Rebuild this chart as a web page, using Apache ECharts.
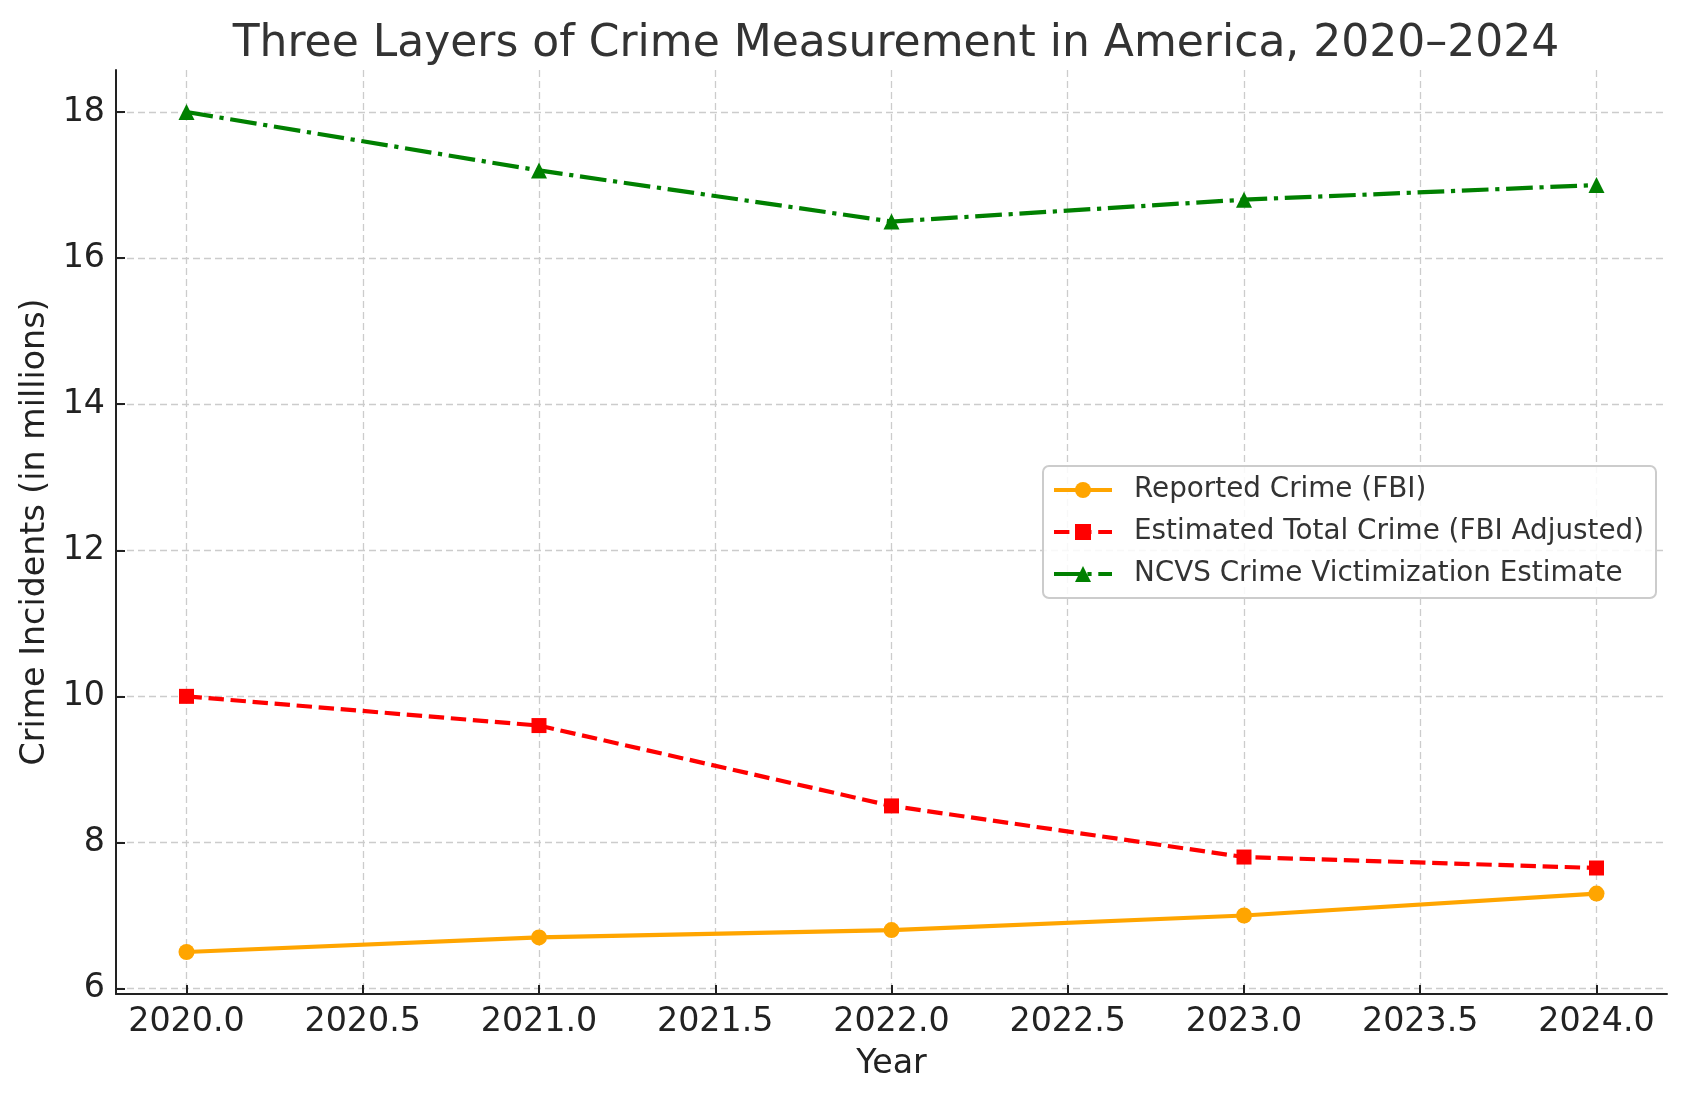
<!DOCTYPE html>
<html>
<head>
<meta charset="utf-8">
<script src="https://cdn.jsdelivr.net/npm/echarts@6/dist/echarts.min.js"></script>
<style>
  html, body { margin: 0; padding: 0; background: #fff; }
  #chart { width: 1686px; height: 1101px; }
</style>
</head>
<body>
<div id="chart"></div>
<script>
// data
var years = [2020, 2021, 2022, 2023, 2024];
var reported = [6.5, 6.7, 6.8, 7.0, 7.3];
var estimated = [10.0, 9.6, 8.5, 7.8, 7.65];
var ncvs = [18.0, 17.2, 16.5, 16.8, 17.0];
var xTicks = [2020, 2020.5, 2021, 2021.5, 2022, 2022.5, 2023, 2023.5, 2024];
var yTicks = [6, 8, 10, 12, 14, 16, 18];

function pairs(vals) {
  return years.map(function (y, i) { return [y, vals[i]]; });
}

var chart = echarts.init(document.getElementById("chart"));
var font = "DejaVu Sans";
var gridLine = { show: true, lineStyle: { color: "#cccccc", width: 1.3, type: [7, 4] } };

var option = {
  backgroundColor: "#ffffff",
  animation: false,
  title: {
    text: "Three Layers of Crime Measurement in America, 2020\u20132024",
    left: 891,
    textAlign: "center",
    top: 18,
    textStyle: { fontFamily: font, fontSize: 44, fontWeight: "normal", color: "#333333" }
  },
  grid: { left: 116, right: 19, top: 70, bottom: 107, containLabel: false },
  legend: {
    orient: "vertical",
    left: 1043,
    top: 466,
    padding: [10, 12, 10, 9],
    itemGap: 14,
    itemWidth: 58,
    itemHeight: 20,
    lineStyle: { width: 4 },
    backgroundColor: "rgba(255,255,255,0.85)",
    borderColor: "#cccccc",
    borderWidth: 2,
    borderRadius: 6,
    textStyle: { fontFamily: font, fontSize: 27.8, color: "#333333", padding: [0, 0, 0, 17] },
    data: ["Reported Crime (FBI)", "Estimated Total Crime (FBI Adjusted)", "NCVS Crime Victimization Estimate"]
  },
  xAxis: {
    type: "value",
    min: 2019.8,
    max: 2024.2,
    name: "Year",
    nameLocation: "middle",
    nameGap: 54,
    nameTextStyle: { fontFamily: font, fontSize: 33.3, color: "#222222" },
    axisLine: { show: true, onZero: false, lineStyle: { color: "#222222", width: 2 } },
    axisTick: { show: true, inside: true, length: 9, customValues: xTicks, lineStyle: { color: "#222222", width: 2 } },
    axisLabel: {
      customValues: xTicks,
      margin: 12,
      fontFamily: font,
      fontSize: 33.3,
      color: "#222222",
      formatter: function (v) { return v.toFixed(1); }
    },
    splitLine: gridLine
  },
  yAxis: {
    type: "value",
    min: 5.925,
    max: 18.575,
    name: "Crime Incidents (in millions)",
    nameLocation: "middle",
    nameGap: 62,
    nameTextStyle: { fontFamily: font, fontSize: 33.3, color: "#222222" },
    axisLine: { show: true, onZero: false, lineStyle: { color: "#222222", width: 2 } },
    axisTick: { show: true, inside: true, length: 9, customValues: yTicks, lineStyle: { color: "#222222", width: 2 } },
    axisLabel: { customValues: yTicks, margin: 11, fontFamily: font, fontSize: 33.3, color: "#222222" },
    splitLine: gridLine
  },
  series: [
    {
      name: "Reported Crime (FBI)",
      type: "line",
      data: pairs(reported),
      symbol: "circle",
      symbolSize: 16,
      color: "#ffa500",
      lineStyle: { width: 4.2, color: "#ffa500" },
      itemStyle: { color: "#ffa500" },
      z: 3
    },
    {
      name: "Estimated Total Crime (FBI Adjusted)",
      type: "line",
      data: pairs(estimated),
      symbol: "rect",
      symbolSize: 15,
      color: "#ff0000",
      lineStyle: { width: 4.2, color: "#ff0000", type: [15.4, 6.7] },
      itemStyle: { color: "#ff0000" },
      z: 3
    },
    {
      name: "NCVS Crime Victimization Estimate",
      type: "line",
      data: pairs(ncvs),
      symbol: "triangle",
      symbolSize: 16,
      color: "#008000",
      lineStyle: { width: 4.2, color: "#008000", type: [26.7, 6.7, 4.2, 6.7] },
      itemStyle: { color: "#008000" },
      z: 3
    }
  ]
};
chart.setOption(option);
</script>
</body>
</html>
